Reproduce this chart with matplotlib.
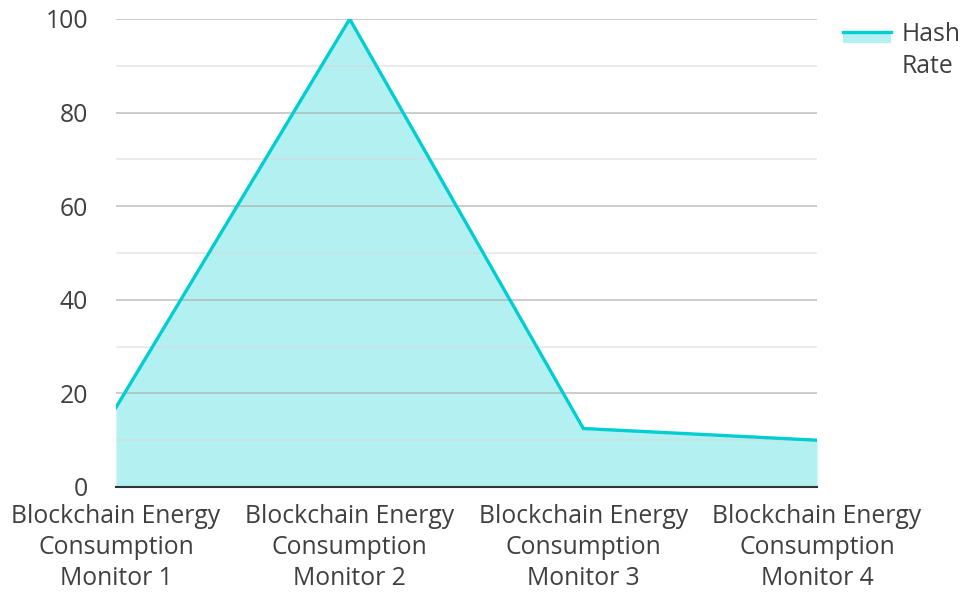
import matplotlib
matplotlib.use("Agg")
import matplotlib.pyplot as plt
from matplotlib.lines import Line2D
from matplotlib.patches import Rectangle

categories = [
    "Blockchain Energy\nConsumption\nMonitor 1",
    "Blockchain Energy\nConsumption\nMonitor 2",
    "Blockchain Energy\nConsumption\nMonitor 3",
    "Blockchain Energy\nConsumption\nMonitor 4",
]
hash_rate = [17, 100, 12.5, 10]
y_ticks = [0, 20, 40, 60, 80, 100]
series_name = "Hash\nRate"

LINE = "#00CED1"
FILL = "#B2F0F1"
TEXT = "#404040"
FS = 17.8

plt.rcParams["font.family"] = ["Open Sans", "DejaVu Sans"]

W, H = 961, 592
fig = plt.figure(figsize=(W / 100, H / 100), dpi=100)
ax = fig.add_axes([116 / W, 1 - 487 / H, (817 - 116) / W, (487 - 19) / H])

x = list(range(len(categories)))
ax.fill_between(x, hash_rate, 0, color=FILL, linewidth=0, zorder=2)
ax.plot(x, hash_rate, color=LINE, linewidth=2.4, solid_joinstyle="miter", zorder=3)

ax.set_xlim(0, len(categories) - 1)
ax.set_ylim(0, 100)
ax.set_yticks(y_ticks)
ax.set_xticks(x)
ax.set_xticklabels(categories, linespacing=1.33)

# horizontal guides drawn over the area (semi-transparent so they tint the fill)
for v in y_ticks[1:]:
    ax.axhline(v, color="#b0b0b0", linewidth=1.2, alpha=0.75, zorder=2.5)
for v in y_ticks[:-1]:
    ax.axhline(v + 10, color="#d8d8d8", linewidth=1.2, alpha=0.6, zorder=2.5)

for s in ["top", "right", "left"]:
    ax.spines[s].set_visible(False)
ax.spines["bottom"].set_color("#333333")
ax.spines["bottom"].set_linewidth(1.5)
ax.spines["bottom"].set_zorder(4)

ax.tick_params(axis="both", which="both", length=0, labelsize=FS, colors=TEXT)
ax.tick_params(axis="y", pad=20)
ax.tick_params(axis="x", pad=12)

# legend key: line over a light area swatch, label to the right
fig.add_artist(Rectangle((843 / W, 1 - 43 / H), 48 / W, 11 / H,
                         transform=fig.transFigure, facecolor=FILL, edgecolor="none"))
fig.add_artist(Line2D([843 / W, 891 / W], [1 - 32 / H, 1 - 32 / H],
                      transform=fig.transFigure, color=LINE, linewidth=2.4))
fig.text(902 / W, 1 - 22 / H, series_name, ha="left", va="top",
         fontsize=FS, color=TEXT, linespacing=1.37)

fig.savefig("out.png", dpi=100)
